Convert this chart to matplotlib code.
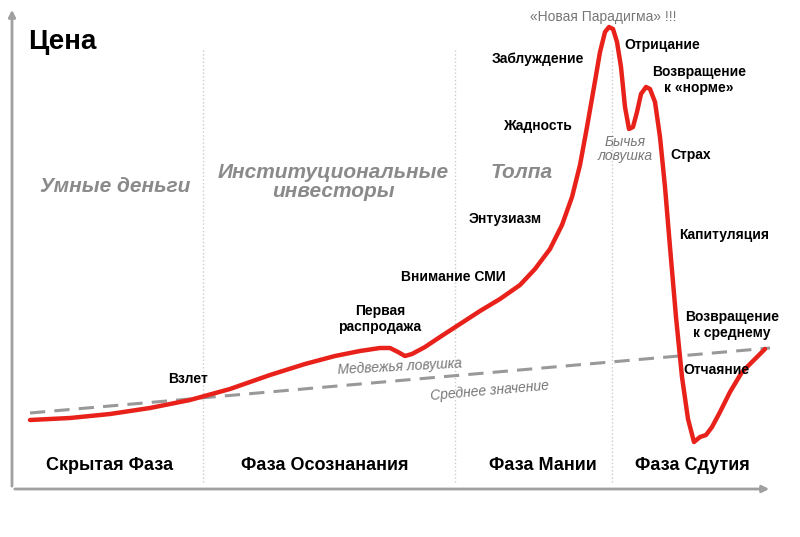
import matplotlib
matplotlib.use("Agg")
import matplotlib.pyplot as plt

plt.rcParams["font.family"] = ["Liberation Sans", "DejaVu Sans"]

# price curve (x position, price level; image height 537 = top)
curve_x = [30, 70, 110, 150, 190, 230, 270, 305, 335, 360, 380, 390, 398, 405, 412, 425,
           440, 460, 480, 500, 520, 535, 550, 562, 572, 580, 587, 594, 600, 605, 609,
           613, 617, 621, 625, 629, 633, 637, 641, 646, 650, 655, 660, 665, 670, 676,
           682, 688, 694, 700, 706, 712, 720, 730, 742, 755, 765]
curve_y = [117, 119, 123, 129, 137, 148, 162, 173, 181, 186, 189, 189, 185, 181, 183, 190,
           200, 213, 226, 238, 252, 268, 288, 312, 340, 372, 410, 450, 485, 505, 510,
           508, 495, 470, 430, 408, 410, 425, 443, 450, 448, 435, 400, 350, 290, 220,
           160, 118, 95, 100, 102, 110, 125, 145, 165, 178, 188]

trend_x = [30, 770]
trend_y = [124, 189]

phases = ["Скрытая Фаза", "Фаза Осознанания", "Фаза Мании", "Фаза Сдутия"]
phase_x = [110, 325, 543, 692]
separators = [203, 455, 612]

fig = plt.figure(figsize=(8, 5.37), dpi=100)
ax = fig.add_axes([0, 0, 1, 1])
ax.set_xlim(0, 800)
ax.set_ylim(0, 537)
ax.axis("off")

ax.annotate("", xy=(12, 530), xytext=(12, 48), arrowprops=dict(arrowstyle="-|>", color="#a0a0a0", lw=2))
ax.annotate("", xy=(772, 48), xytext=(12, 48), arrowprops=dict(arrowstyle="-|>", color="#a0a0a0", lw=2))
for sx in separators:
    ax.plot([sx, sx], [55, 487], ls=":", color="#cccccc", lw=1)

ax.plot(trend_x, trend_y, ls="--", color="#999999", lw=2.2, dashes=(5, 3))
ax.plot(curve_x, curve_y, color="#e8221b", lw=3.2, solid_capstyle="round", solid_joinstyle="round")

ax.text(28, 495, "Цена", fontsize=20, fontweight="bold", ha="left", va="center")
for p, x in zip(phases, phase_x):
    ax.text(x, 71, p, fontsize=13, fontweight="bold", ha="center", va="center")

gi = dict(color="#8a8a8a", style="italic", fontweight="bold", ha="center", va="center")
ax.text(115, 350, "Умные деньги", fontsize=15, **gi)
ax.text(333, 355, "Институциональные\nинвесторы", fontsize=15, linespacing=0.95, **gi)
ax.text(522, 365, "Толпа", fontsize=15, **gi)
ax.text(625, 388, "Бычья\nловушка", fontsize=10, linespacing=1.0, color="#777777", style="italic", ha="center", va="center")
ax.text(400, 170, "Медвежья ловушка", fontsize=10, color="#777777", style="italic", ha="center", va="center", rotation=3)
ax.text(490, 146, "Среднее значение", fontsize=10, color="#777777", style="italic", ha="center", va="center", rotation=5)
ax.text(603, 520, "«Новая Парадигма» !!!", fontsize=10, color="#777777", ha="center", va="center")

bl = dict(fontsize=10, fontweight="bold", ha="center", va="center", linespacing=1.1)
ax.text(188, 158, "Взлет", **bl)
ax.text(380, 218, "Первая\nраспродажа", **bl)
ax.text(453, 260, "Внимание СМИ", **bl)
ax.text(505, 318, "Энтузиазм", **bl)
ax.text(538, 411, "Жадность", **bl)
ax.text(538, 478, "Заблуждение", **bl)
ax.text(662, 492, "Отрицание", **bl)
ax.text(699, 457, "Возвращение\nк «норме»", **bl)
ax.text(691, 382, "Страх", **bl)
ax.text(724, 302, "Капитуляция", **bl)
ax.text(732, 212, "Возвращение\nк среднему", **bl)
ax.text(716, 167, "Отчаяние", **bl)

fig.savefig("out.png", dpi=100, facecolor="white")
